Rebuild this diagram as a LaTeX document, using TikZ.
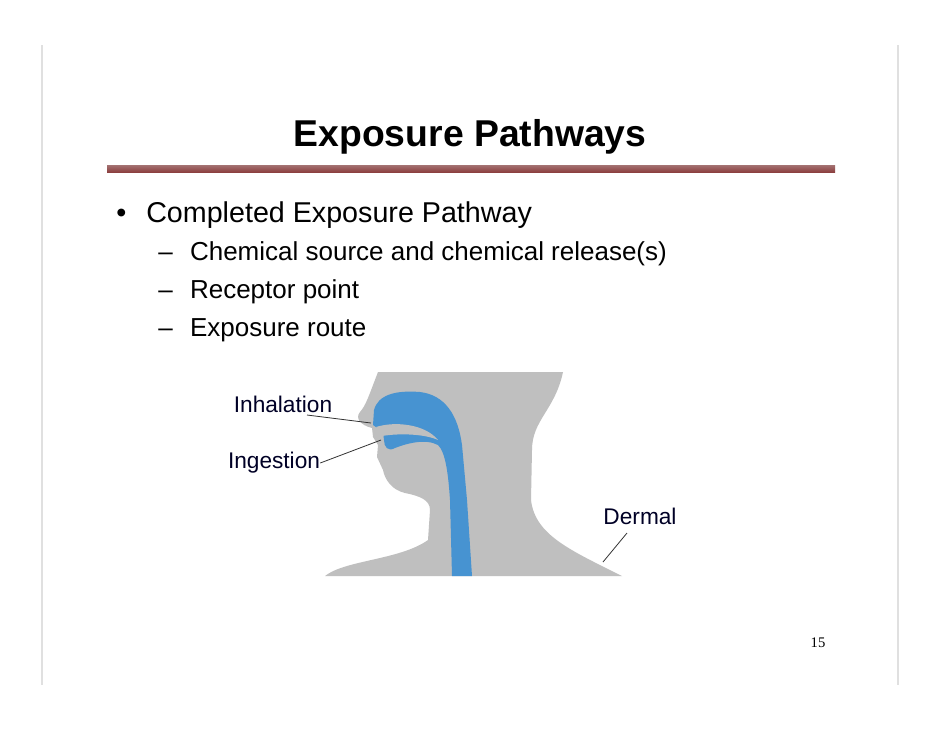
\documentclass[tikz,border=0pt]{standalone}
\usepackage{fontspec}
\setmainfont{Liberation Sans}
\newfontfamily\serifpg{Liberation Serif}
\begin{document}
\begin{tikzpicture}[x=0.75pt,y=-0.75pt,
  lbl/.style={font=\fontsize{17}{19}\selectfont,text=black!85!blue,inner sep=0pt},
  lead/.style={draw=black!80,line width=0.6pt}]
\useasboundingbox (0,0) rectangle (942,728);
\fill[white] (0,0) rectangle (942,728);
\draw[black!12,line width=0.8pt] (42,45) -- (42,685);
\draw[black!12,line width=0.8pt] (898,45) -- (898,685);
\node[font=\bfseries\fontsize{28}{32}\selectfont] (title) at (470,137) {Exposure Pathways};
\shade[top color=red!35!black!55,bottom color=red!40!black!75] (107,165) rectangle (835,172);
\node[anchor=west,font=\fontsize{21.5}{24}\selectfont,inner sep=0pt] (b1) at (116,215) {\textbullet\hspace{15pt}Completed Exposure Pathway};
\foreach \t/\yy in {Chemical source and chemical release(s)/254,Receptor point/292,Exposure route/330}
  \node[anchor=west,font=\fontsize{19.5}{22}\selectfont,inner sep=0pt] at (158,\yy) {--\hspace{13pt}\t};
% head
\fill[black!25] (378,372) -- (563,372) .. controls (555,410) and (532,420) .. (532,450)
  -- (531,500) .. controls (535,535) and (570,550) .. (622,576) -- (325,576)
  .. controls (345,560) and (400,560) .. (428,540) -- (430,510) .. controls (430,500) and (420,496) .. (405,493)
  .. controls (392,490) and (385,480) .. (383,470) -- (377,457) -- (378,445) -- (373,437) -- (372,428)
  .. controls (360,425) and (355,418) .. (360,412) .. controls (366,405) and (368,398) .. (378,372) -- cycle;
\fill[blue!45!cyan!60!gray!90] (373,425) -- (374,410) .. controls (378,395) and (395,390) .. (420,392)
  .. controls (445,395) and (458,415) .. (462,445) -- (467,500) -- (472,576) -- (452,576)
  -- (450,500) .. controls (448,470) and (445,452) .. (438,445)
  .. controls (425,438) and (405,444) .. (395,448) .. controls (388,452) and (384,447) .. (384,440)
  -- (383,432) -- cycle;
\fill[black!25] (376,427) .. controls (395,421) and (425,424) .. (438,440)
  .. controls (425,434) and (400,433) .. (382,436) -- cycle;
\node[lbl] (inh) at (283,404) {Inhalation};
\node[lbl] (ing) at (274,463) {Ingestion};
\node[lbl] (der) at (640,516) {Dermal};
\coordinate (pinh) at (371,423);
\coordinate (ping) at (381,440);
\coordinate (pder) at (603,562);
\draw[lead] (307,415) -- (pinh);
\draw[lead] (ing.east) -- (ping);
\draw[lead] (627,533) -- (pder);
\node[font=\serifpg\fontsize{11}{13}\selectfont] (pg) at (818,643) {15};
\end{tikzpicture}
\end{document}
